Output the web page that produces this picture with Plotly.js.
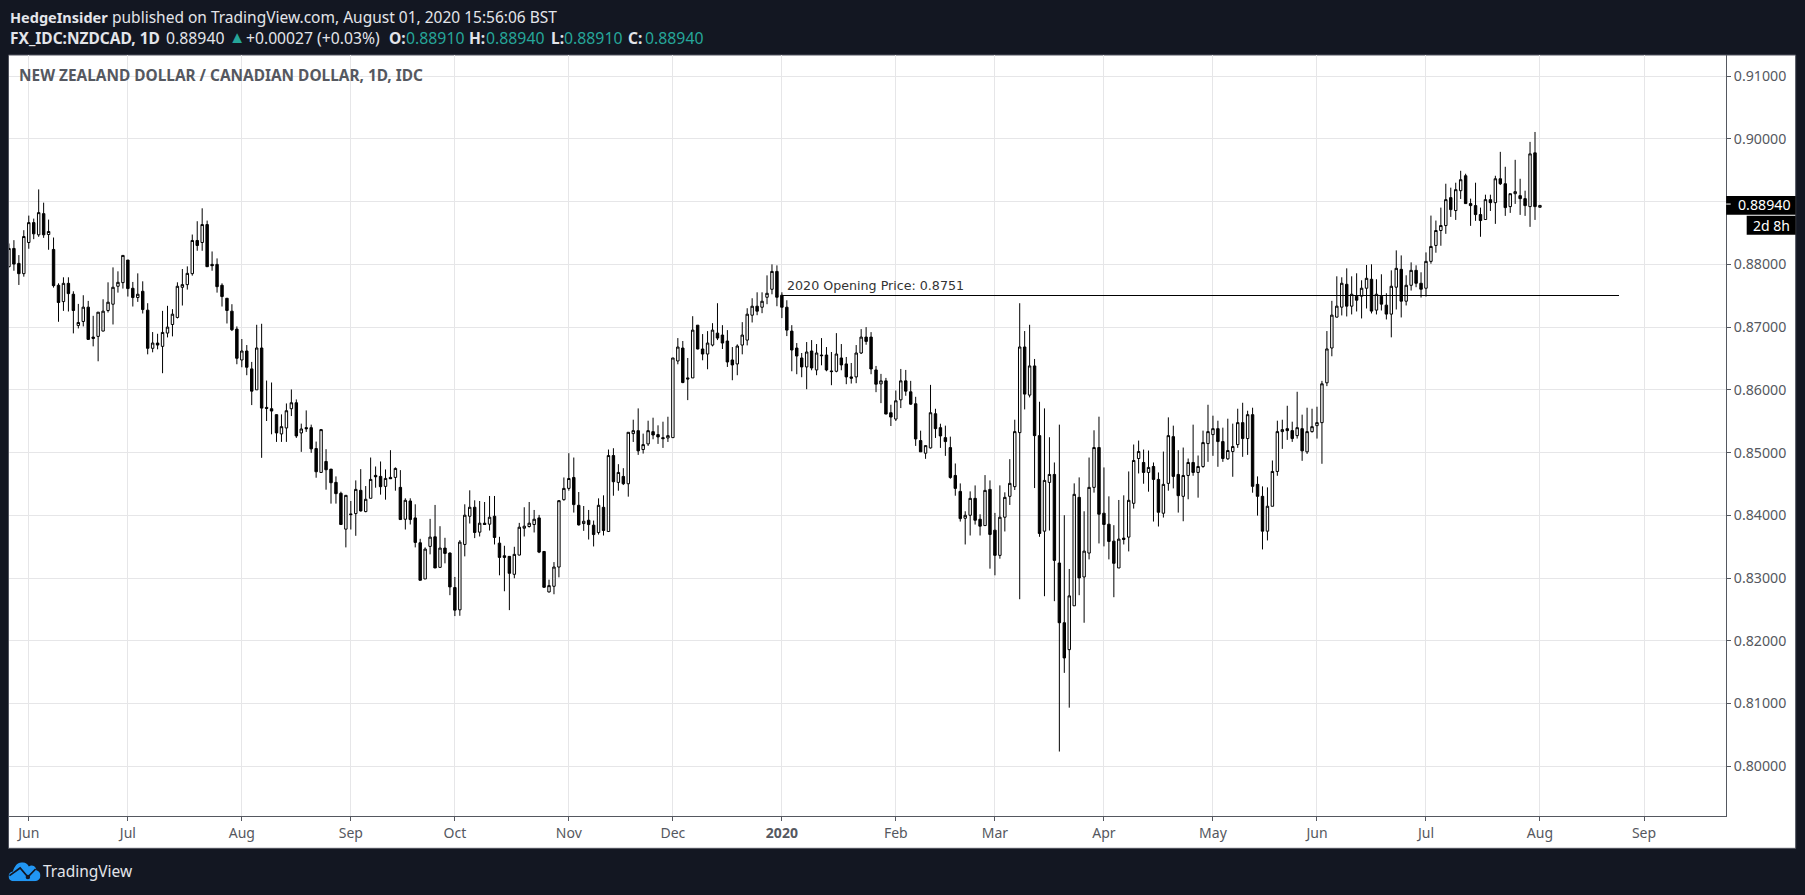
<!DOCTYPE html>
<html>
<head>
<meta charset="utf-8">
<script src="https://cdn.plot.ly/plotly-3.0.1.min.js"></script>
<style>html,body{margin:0;padding:0;background:#131722;overflow:hidden}
.scatterlayer .js-line{shape-rendering:crispEdges}</style>
</head>
<body>
<div id="chart" style="width:1805px;height:895px"></div>
<script>
// NZD/CAD daily bars, in pipettes (1 pipette = 0.00001). First bar is 4 sessions before 3 Jun 2019.
const highPipettes = [
88333,88386,88148,88545,88778,88730,89195,88984,88714,88428,
87698,87794,87794,87571,87370,87508,87418,87180,87238,87444,
87714,87952,87889,88143,88069,87720,87857,87730,87381,86921,
86894,87259,87339,87286,87714,87926,87968,88476,88688,88894,
88698,88206,88095,87698,87460,87365,87011,86810,86714,86445,
87037,87053,86148,86117,85609,85609,85783,86006,85847,85461,
85672,85445,85175,85376,85054,84736,84620,84376,84323,84228,
84556,84736,84466,84921,84778,84858,84731,85038,84763,84720,
84271,84271,84175,83625,83488,83943,84165,83826,83641,83408,
83017,83604,84175,84398,84239,84228,84212,84308,84308,83657,
83514,83350,83498,83879,84128,84212,84085,84006,83429,82974,
83254,84240,84603,84990,84921,84371,84148,84085,83916,84270,
84318,85048,85069,84815,84751,85323,85524,85704,85302,85508,
85556,85434,85492,85571,86508,86825,86778,86508,87174,87031,
86889,86936,87063,87381,87031,86952,86682,86725,87079,87301,
87460,87555,87555,87825,88000,87984,87555,87428,87031,86746,
86587,86762,86793,86730,86825,86682,86603,86904,86730,86524,
86428,86714,86968,87000,86920,86381,86254,86190,85762,85989,
86333,86317,86143,85889,85349,85111,86079,85698,85460,85429,
85254,84826,84508,84064,84381,84476,84016,84641,84556,84038,
84477,84366,84895,85524,87381,86937,87037,86492,85810,85704,
85244,84842,85445,84001,83144,84509,84604,84064,84921,85355,
85572,84763,84302,83842,84244,84318,84699,85128,85191,85048,
85032,84842,84683,85016,85561,85429,85038,85080,84905,85445,
84953,85350,85762,85588,85508,85397,85540,85461,85699,85794,
85667,85715,84620,84461,84445,84874,85508,85524,85746,85492,
85969,85604,85715,85699,85731,86143,86937,87419,87810,87794,
87937,87810,87858,87747,87990,88001,87763,87842,87540,87905,
88223,88143,87826,88032,87985,87874,88191,88778,88699,88905,
89286,89223,89302,89492,89445,89048,89302,88905,89111,89111,
89413,89794,89556,89127,89667,89365,89175,89953,90111,88940];
const openPipettes = [
87963,88254,88016,87852,88349,88666,88471,88809,88476,88238,
87667,87407,87698,87524,87027,87090,87318,86841,86852,86937,
87265,87365,87651,87709,88069,87619,87471,87571,87270,86662,
86746,86693,86905,87042,87154,87635,87677,87852,88381,88349,
88635,88000,88000,87667,87460,87254,86968,86476,86619,86334,
86000,86667,85720,85699,85604,85297,85392,85699,85794,85313,
85397,85397,85064,84683,84858,84736,84525,84350,83779,84022,
84027,84398,84059,84271,84636,84620,84461,84604,84604,84445,
83937,84228,83958,83562,82985,83504,83657,83170,83477,83398,
82848,82493,83535,83985,84128,83731,83874,83858,83985,83556,
83355,83345,83059,83366,83794,83821,83853,83958,83423,82778,
82868,83175,84249,84429,84603,84159,83868,83921,83842,83725,
84127,83741,84952,84524,84619,84503,85302,85349,85048,85138,
85333,85286,85238,85233,85238,86460,86666,86190,86190,87031,
86651,86571,86714,86904,86873,86778,86476,86413,86714,86793,
87190,87333,87317,87476,87603,87888,87508,87317,86936,86666,
86508,86365,86619,86317,86555,86555,86301,86296,86508,86413,
86206,86206,86587,86841,86841,86317,86095,86143,85635,85534,
85841,86143,85968,85778,85191,84990,85074,85619,85397,85238,
85079,84635,84381,83953,84000,84270,83937,83836,84413,83763,
83361,83969,84302,84456,85318,86683,85916,86381,85270,83747,
84524,84651,83239,82287,81858,82557,84286,83017,83398,84445,
85080,84033,83858,83588,83160,83636,83652,84191,84905,84842,
84683,84778,84572,84033,84509,85254,84651,84302,84635,84842,
84683,84778,85143,85286,85381,85175,84900,85016,85127,85477,
85223,85604,84493,84302,83747,84144,84699,85334,85381,85350,
85270,85381,85011,85334,85429,85477,86112,86667,87159,87318,
87683,87334,87493,87493,87620,87763,87271,87493,87350,87207,
87636,87921,87413,87667,87905,87699,87620,88048,88302,88540,
88619,89064,88858,89175,89413,88969,88937,88794,88715,89032,
88984,89365,89286,88921,89127,89096,89048,88921,89778,88910];
const lowPipettes = [
87952,87899,87672,87804,88249,88402,88439,88423,88233,87630,
87085,87259,87249,86900,86979,87011,86804,86693,86455,86932,
87233,87042,87550,87614,87487,87328,87402,87217,86566,86598,
86646,86265,86836,86852,87138,87344,87598,87820,88217,88217,
87963,87899,87550,87328,87058,86937,86408,86360,86233,85757,
86000,84916,85503,85291,85170,85170,85170,85582,85233,85011,
85329,84995,84599,84683,84408,84186,84186,83853,83488,83773,
83673,84059,84048,84271,84440,84329,84249,84578,84392,83932,
83773,83853,83488,82964,82985,83377,83160,83160,83234,82726,
82393,82398,83345,83869,83636,83662,83853,83757,83535,83043,
82789,82488,82996,83361,83662,83805,83726,83397,82847,82770,
82741,83011,84233,84392,84043,83836,83752,83614,83503,83693,
83678,83741,84312,84392,84482,84297,85169,84963,84984,85106,
85212,85138,85074,85169,85238,86407,86106,85836,86190,86646,
86471,86328,86693,86793,86651,86365,86153,86233,86566,86709,
87074,87190,87222,87365,87523,87333,87143,86857,86296,86249,
86201,86010,86312,86233,86391,86296,86074,86280,86312,86090,
86100,86106,86571,86719,86249,85963,85788,85614,85423,85503,
85709,85905,85762,85106,85011,84900,85064,85233,85074,84947,
84582,84312,83900,83535,83678,83852,83678,83836,83149,83043,
83308,83742,84165,84403,82662,85688,85879,84434,83657,82710,
83757,82631,80234,81488,80933,82557,82726,82287,83297,84361,
83551,83504,83297,82694,83160,83535,83424,84107,84667,84503,
84376,83900,83821,83964,84392,84429,84043,83905,84255,84630,
84281,84757,84852,84948,84773,84852,84884,84614,85075,84932,
84963,84360,83995,83456,83599,84144,84630,85059,85202,85170,
85223,84868,84979,85318,85223,84821,86059,86535,87154,87186,
87170,87202,87249,87138,87297,87218,87202,87265,87122,86837,
87281,87154,87345,87583,87636,87472,87487,88011,88186,88297,
88487,88757,88709,89043,88964,88614,88694,88440,88710,88852,
88646,89265,88773,88821,88964,88789,88773,88598,88709,88910];
const closePipettes = [
88254,88005,87852,88444,88666,88487,88825,88471,88524,87661,
87392,87698,87534,87265,87074,87318,86804,86820,87238,87254,
87397,87635,87714,88143,87614,87471,87524,87280,86662,86746,
86714,86915,87000,87206,87651,87677,87857,88381,88301,88635,
87963,87979,87645,87487,87265,86958,86503,86619,86360,85979,
86667,85709,85704,85662,85313,85413,85667,85794,85265,85376,
85381,85059,84694,85366,84726,84519,84345,83853,84318,84011,
84413,84070,84255,84572,84614,84456,84588,84583,84747,83932,
84239,83932,83567,82964,83461,83652,83160,83477,83392,82858,
82488,83572,84001,84128,83726,83874,83853,83969,83646,83329,
83329,83075,83377,83810,83826,83874,83937,83413,82852,82879,
83175,84233,84429,84587,84170,83847,83905,83852,83693,84159,
83757,84952,84535,84683,84503,85323,85349,85027,85127,85349,
85280,85249,85222,85270,86508,86682,86116,86174,86952,86651,
86571,86746,86952,86825,86746,86444,86397,86698,86873,87206,
87333,87254,87412,87539,87888,87476,87317,86952,86635,86539,
86365,86603,86349,86587,86545,86317,86291,86571,86397,86206,
86185,86587,86841,86772,86333,86090,86143,85614,85566,85825,
86143,85979,85772,85217,85011,85111,85635,85381,85265,85175,
84603,84429,83947,84000,84270,83921,83826,84397,83694,83361,
83969,84286,84509,85334,86683,85932,86381,85270,83710,84556,
84651,83281,82287,81726,82715,84334,83001,83429,84445,85080,
84017,83853,83583,83234,83620,83615,84239,84874,85016,84683,
84763,84572,84048,84493,85270,84620,84313,84635,84842,84683,
84778,85159,85334,85381,85175,84905,85032,85096,85477,85223,
85604,84461,84302,83747,84144,84699,85334,85366,85350,85223,
85397,85027,85334,85413,85477,86096,86652,87191,87334,87699,
87334,87524,87429,87620,87778,87255,87524,87366,87207,87651,
87937,87413,87667,87905,87699,87604,88048,88286,88540,88619,
89032,88873,89191,89350,88969,88937,88794,88699,89032,88984,
89365,89286,88905,89127,89159,89048,88937,89762,88921,88940];

// Session number of each month's first bar (session 0 = 3 Jun 2019)
const monthSessions = [0,20,43,65,86,109,130,152,175,195,217,239,260,282,305,326];
const monthLabels = ['Jun','Jul','Aug','Sep','Oct','Nov','Dec','<b>2020</b>','Feb','Mar','Apr','May','Jun','Jul','Aug','Sep'];
const priceTicks = [0.91,0.90,0.89,0.88,0.87,0.86,0.85,0.84,0.83,0.82,0.81,0.80];
const priceLabels = ['0.91000','0.90000','','0.88000','0.87000','0.86000','0.85000','0.84000','0.83000','0.82000','0.81000','0.80000'];
const openingLevel = 0.8751;
const openingSessions = [152,321];

const W = 1805, H = 895;
const plot = {l:8.5, r:1726.3, t:55, b:815.7};
const px = x => (x - plot.l) / (plot.r - plot.l);
const py = y => (plot.b - y) / (plot.b - plot.t);
const toPrice = a => a.map(v => v / 100000);
const sessions = highPipettes.map((_, i) => i - 4);
const INK = '#000000', MUTED = '#555860', GRID = '#e6e6e8', DARK = '#131722', LIGHT = '#e3e5ea', TEAL = '#26a69a';
const AXFONT = '"Noto Sans", sans-serif';

const candles = {
  type: 'candlestick', x: sessions,
  open: toPrice(openPipettes), high: toPrice(highPipettes), low: toPrice(lowPipettes), close: toPrice(closePipettes),
  width: 0.4, whiskerwidth: 0,
  increasing: {line: {color: INK, width: 1}, fillcolor: '#ffffff'},
  decreasing: {line: {color: INK, width: 1}, fillcolor: INK},
  hoverinfo: 'skip', showlegend: false
};
const openingLine = {
  type: 'scatter', mode: 'lines', x: openingSessions, y: openingSessions.map(() => openingLevel),
  line: {color: '#000000', width: 1}, hoverinfo: 'skip', showlegend: false
};

const note = (x, y, text, size, color, family) => ({
  xref: 'paper', yref: 'paper', x: px(x), y: py(y), text, showarrow: false,
  xanchor: 'left', yanchor: 'middle', align: 'left', borderpad: 0,
  font: {family: family || AXFONT, size, color}
});

const logo = "data:image/svg+xml;utf8," + encodeURIComponent(
  '<svg xmlns="http://www.w3.org/2000/svg" viewBox="0 0 33 20" preserveAspectRatio="none">' +
  '<path fill="#2196f3" d="M6 20C2.5 20 0 17.6 0 14.6c0-2.6 2-4.6 4.5-5C6.2 4 9.4 0 14 0c3.4 0 5.8 1.9 7 4.3 1-.7 2-1 3.2-.9 2.7.2 4.4 2.3 4.5 5 2.7.7 4.3 3 4.3 5.6 0 3.4-2.5 6-6 6z"/>' +
  '<path fill="none" stroke="#131722" stroke-width="1.8" d="M1 14L12 6l8 9.5L28 7"/>' +
  '<circle cx="20" cy="15.5" r="2.3" fill="#131722"/></svg>');

const layout = {
  width: W, height: H, autosize: false,
  paper_bgcolor: DARK, plot_bgcolor: '#ffffff',
  margin: {l: plot.l, r: W - plot.r, t: plot.t, b: H - plot.b, pad: 0},
  showlegend: false, dragmode: false,
  xaxis: {
    type: 'linear', range: [-3.99, 342.55], rangeslider: {visible: false},
    tickmode: 'array', tickvals: monthSessions, ticktext: monthLabels,
    showgrid: true, gridcolor: GRID, gridwidth: 1, zeroline: false,
    showline: true, linecolor: MUTED, linewidth: 1,
    ticks: 'outside', ticklen: 4, tickcolor: MUTED, tickwidth: 1,
    tickfont: {family: AXFONT, size: 14, color: MUTED}
  },
  yaxis: {
    side: 'right', range: [0.79206, 0.91338], fixedrange: true,
    tickmode: 'array', tickvals: priceTicks, ticktext: priceLabels,
    showgrid: true, gridcolor: GRID, gridwidth: 1, zeroline: false,
    showline: true, linecolor: MUTED, linewidth: 1,
    ticks: 'outside', ticklen: 4, tickcolor: MUTED, tickwidth: 1,
    tickfont: {family: AXFONT, size: 14.2, color: MUTED}
  },
  shapes: [
    {type: 'rect', layer: 'below', xref: 'paper', yref: 'paper', x0: px(8), x1: px(1796), y0: py(848), y1: py(55),
     fillcolor: '#ffffff', line: {color: '#50535e', width: 1}},
    {type: 'rect', xref: 'paper', yref: 'paper', x0: px(1726.5), x1: px(1796), y0: py(214.7), y1: py(196),
     fillcolor: '#000000', line: {width: 0}},
    {type: 'rect', xref: 'paper', yref: 'paper', x0: px(1747), x1: px(1796), y0: py(234.7), y1: py(215.7),
     fillcolor: '#000000', line: {width: 0}},
    {type: 'line', xref: 'paper', yref: 'paper', x0: px(1726.5), x1: px(1731), y0: py(204), y1: py(204),
     line: {color: '#ffffff', width: 1}}
  ],
  images: [{source: logo, xref: 'paper', yref: 'paper', x: px(8), y: py(862), sizex: 32/(plot.r-plot.l), sizey: 19/(plot.b-plot.t),
            xanchor: 'left', yanchor: 'top', sizing: 'stretch', layer: 'above'}],
  annotations: [
    note(8, 16.7, '<b>HedgeInsider</b>', 14.5, LIGHT),
    note(111, 16.7, 'published on TradingView.com, August 01, 2020 15:56:06 BST', 15.5, LIGHT),
    note(8, 38, '<b>FX_IDC:NZDCAD, 1D</b>', 15.5, LIGHT),
    note(165, 38, '0.88940', 15.8, LIGHT),
    note(228, 37, '▲', 16.5, TEAL),
    note(245, 38, '+0.00027 (+0.03%)', 15.7, LIGHT),
    note(388, 38, '<b>O:</b>', 15.5, LIGHT),
    note(404.6, 38, '0.88910', 15.8, TEAL),
    note(468, 38, '<b>H:</b>', 15.5, LIGHT),
    note(485, 38, '0.88940', 15.8, TEAL),
    note(549.5, 38, '<b>L:</b>', 15.5, LIGHT),
    note(563, 38, '0.88910', 15.8, TEAL),
    note(627, 38, '<b>C:</b>', 15.5, LIGHT),
    note(643.4, 38, '0.88940', 15.8, TEAL),
    note(18, 75.7, '<b>NEW ZEALAND DOLLAR / CANADIAN DOLLAR, 1D, IDC</b>', 15.4, MUTED),
    note(786, 285, '2020 Opening Price: 0.8751', 12.66, '#333333', '"DejaVu Sans", sans-serif'),
    note(1737, 204.5, '0.88940', 14.2, '#ffffff'),
    note(1752, 225, '2d 8h', 14, '#ffffff'),
    note(42, 871, 'TradingView', 15.5, LIGHT)
  ]
};
Plotly.newPlot('chart', [openingLine, candles], layout, {staticPlot: true, displayModeBar: false});
</script>
</body>
</html>
